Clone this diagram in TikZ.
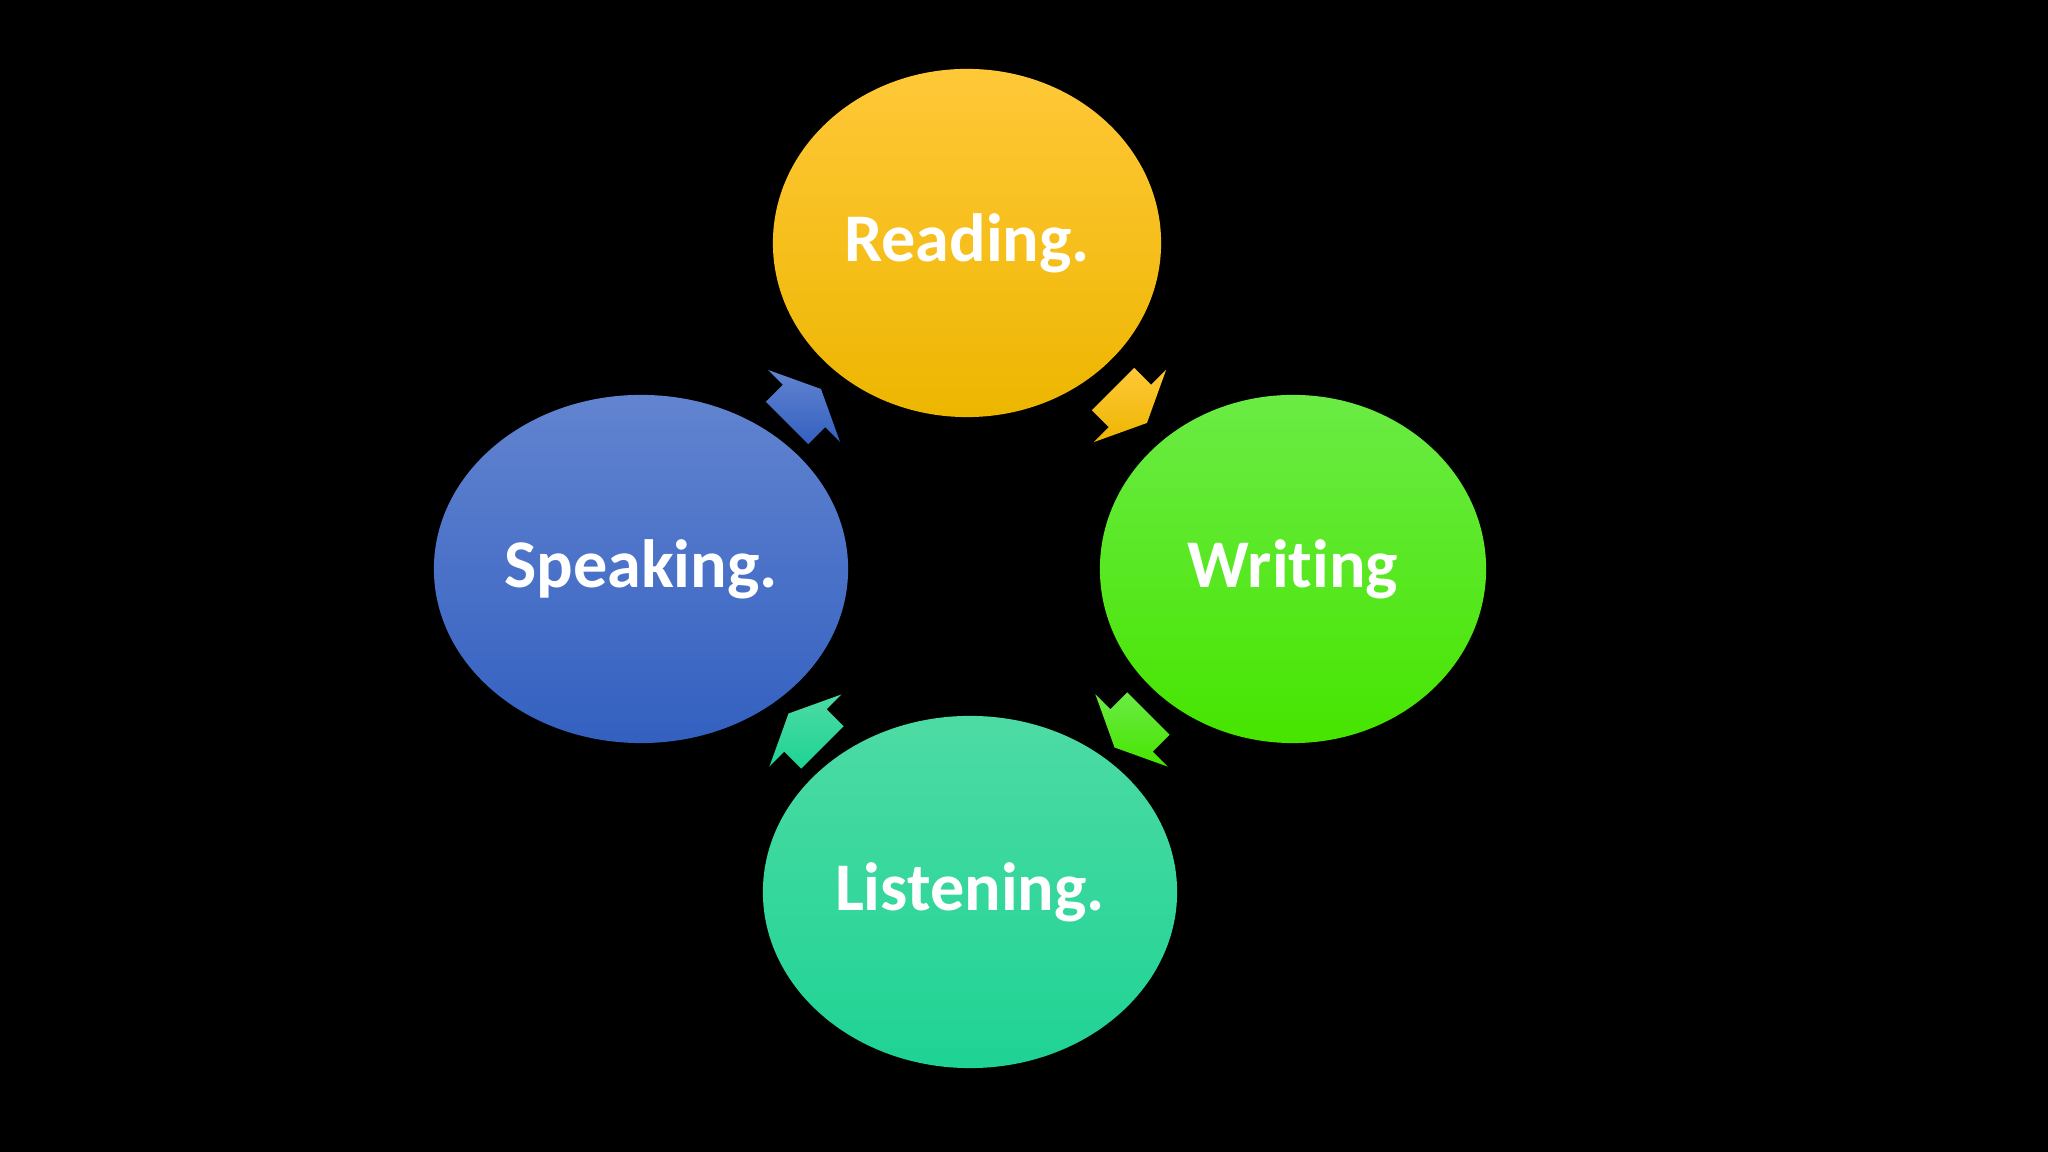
\documentclass[tikz,border=0pt]{standalone}
\usepackage{fontspec}
\setmainfont{Carlito}[Ligatures=NoCommon]
\usepackage{tikz}
\usetikzlibrary{shapes.geometric,calc}

\definecolor{readtop}{HTML}{FFC838}
\definecolor{readbot}{HTML}{EDB600}
\definecolor{writetop}{HTML}{6BEB45}
\definecolor{writebot}{HTML}{46E500}
\definecolor{listtop}{HTML}{4DDBA4}
\definecolor{listbot}{HTML}{1ED394}
\definecolor{speaktop}{HTML}{6284D0}
\definecolor{speakbot}{HTML}{3360C0}

\tikzset{
  skill/.style={ellipse, inner sep=0pt, text=white,
    font=\fontsize{19.4}{22}\selectfont\bfseries},
  cycarrow/.pic={
    \path[pic actions] (-24,-30) -- (0,-30) -- (0,-51) -- (24,0)
      -- (0,51) -- (0,30) -- (-24,30) -- cycle;
  }
}

\begin{document}
\begin{tikzpicture}[x=0.01cm, y=0.01cm]
\fill[black] (0,0) rectangle (2048,1152);
\useasboundingbox (0,0) rectangle (2048,1152);

\node[skill, minimum width=3.88cm, minimum height=3.48cm,
  top color=readtop, bottom color=readbot] (reading) at (967,909) {Reading.};
\node[skill, minimum width=3.86cm, minimum height=3.48cm,
  top color=writetop, bottom color=writebot] (writing) at (1293,583) {Writing};
\node[skill, minimum width=4.14cm, minimum height=3.52cm,
  top color=listtop, bottom color=listbot] (listening) at (970,260) {Listening.};
\node[skill, minimum width=4.14cm, minimum height=3.48cm,
  top color=speaktop, bottom color=speakbot] (speaking) at (641,583) {Speaking.};

% arrows round the cycle
\pic[rotate=45, top color=speaktop, bottom color=speakbot]
  at ($(speaking)!0.5!(reading)$) {cycarrow};
\pic[rotate=-45, top color=readtop, bottom color=readbot]
  at ($(reading)!0.5!(writing)$) {cycarrow};
\pic[rotate=-135, top color=writetop, bottom color=writebot]
  at ($(writing)!0.5!(listening)$) {cycarrow};
\pic[rotate=135, top color=listtop, bottom color=listbot]
  at ($(listening)!0.5!(speaking)$) {cycarrow};
\end{tikzpicture}
\end{document}
